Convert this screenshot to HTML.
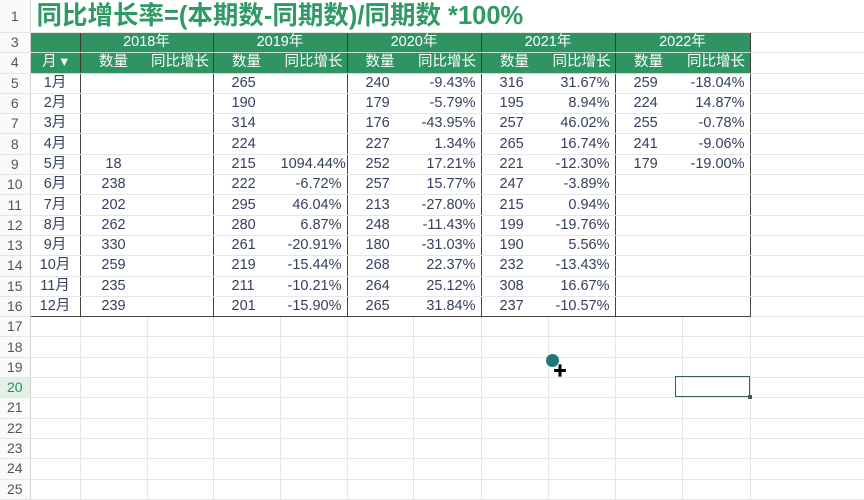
<!DOCTYPE html>
<html><head><meta charset="utf-8"><style>
body{margin:0;width:864px;height:486px;overflow:hidden;background:#fff;font-family:"Liberation Sans","Noto Sans CJK SC",sans-serif}
table{position:absolute;left:0;top:0;border-collapse:collapse;table-layout:fixed;width:864px}
td{padding:0;height:19.3px;font-size:14.5px;color:#34405e;border-bottom:1px solid #e6e6e6;border-right:1px solid #e6e6e6;white-space:nowrap;overflow:hidden;line-height:19px}
td.r{text-align:center;color:#555;background:#fafafa;border-right:1px solid #d0d0d0;font-size:14px}
tr.t1 td{height:32px}
td.title{color:#2f9a66;font-size:25.5px;font-weight:bold;padding-left:6px;overflow:visible;border-right:none}
.h td.g{background:#2f9462;text-align:center;border-right:1px solid #3a3a3a;border-bottom:1px solid #bfe0cc;color:#fff}
.h td.gi{border-right:1px solid #2f9462}
td.m{text-align:center;border-right:1px solid #444}
td.q{padding-left:18px;border-right:1px solid #fff}
td.c{text-align:center;border-right:1px solid #fff}
td.p{text-align:right;padding-right:5px;border-right:1px solid #444}
td.x{border-right:1px solid #444}
tr.last td.m,tr.last td.q,tr.last td.p,tr.last td.c,tr.last td.x{border-bottom:1px solid #444}
td.sel{background:#e4efe8;color:#2f8a5a}
.box{position:absolute;left:675px;top:376px;width:73px;height:19px;border:1px solid #3d5e4d}
.box i{position:absolute;right:-3px;bottom:-3px;width:4px;height:4px;background:#3d5e4d}
.dot{position:absolute;left:546px;top:354px;width:13px;height:13px;border-radius:50%;background:#1e7a74}
.cur{position:absolute;left:553px;top:361px;font-size:14px;color:#000;font-weight:bold}
</style></head><body>
<table>
<colgroup><col style="width:30px"><col style="width:50px"><col style="width:67px"><col style="width:66px"><col style="width:67px"><col style="width:67px"><col style="width:66px"><col style="width:68px"><col style="width:67px"><col style="width:67px"><col style="width:67px"><col style="width:68px"><col style="width:114px"></colgroup>
<tr class="t1"><td class="r">1</td><td class="title" colspan="12">同比增长率=(本期数-同期数)/同期数 *100%</td></tr>
<tr class="h"><td class="r">3</td><td class="g"></td><td class="g" colspan="2">2018年</td><td class="g" colspan="2">2019年</td><td class="g" colspan="2">2020年</td><td class="g" colspan="2">2021年</td><td class="g" colspan="2">2022年</td><td></td></tr>
<tr class="h"><td class="r">4</td><td class="g">月 ▾</td><td class="g gi">数量</td><td class="g">同比增长</td><td class="g gi">数量</td><td class="g">同比增长</td><td class="g gi">数量</td><td class="g">同比增长</td><td class="g gi">数量</td><td class="g">同比增长</td><td class="g gi">数量</td><td class="g">同比增长</td><td></td></tr>
<tr><td class="r">5</td><td class="m">1月</td><td class="c"></td><td class="x"></td><td class="q">265</td><td class="p"></td><td class="q">240</td><td class="p">-9.43%</td><td class="q">316</td><td class="p">31.67%</td><td class="q">259</td><td class="p">-18.04%</td><td></td></tr>
<tr><td class="r">6</td><td class="m">2月</td><td class="c"></td><td class="x"></td><td class="q">190</td><td class="p"></td><td class="q">179</td><td class="p">-5.79%</td><td class="q">195</td><td class="p">8.94%</td><td class="q">224</td><td class="p">14.87%</td><td></td></tr>
<tr><td class="r">7</td><td class="m">3月</td><td class="c"></td><td class="x"></td><td class="q">314</td><td class="p"></td><td class="q">176</td><td class="p">-43.95%</td><td class="q">257</td><td class="p">46.02%</td><td class="q">255</td><td class="p">-0.78%</td><td></td></tr>
<tr><td class="r">8</td><td class="m">4月</td><td class="c"></td><td class="x"></td><td class="q">224</td><td class="p"></td><td class="q">227</td><td class="p">1.34%</td><td class="q">265</td><td class="p">16.74%</td><td class="q">241</td><td class="p">-9.06%</td><td></td></tr>
<tr><td class="r">9</td><td class="m">5月</td><td class="c">18</td><td class="x"></td><td class="q">215</td><td class="p">1094.44%</td><td class="q">252</td><td class="p">17.21%</td><td class="q">221</td><td class="p">-12.30%</td><td class="q">179</td><td class="p">-19.00%</td><td></td></tr>
<tr><td class="r">10</td><td class="m">6月</td><td class="c">238</td><td class="x"></td><td class="q">222</td><td class="p">-6.72%</td><td class="q">257</td><td class="p">15.77%</td><td class="q">247</td><td class="p">-3.89%</td><td class="q"></td><td class="p"></td><td></td></tr>
<tr><td class="r">11</td><td class="m">7月</td><td class="c">202</td><td class="x"></td><td class="q">295</td><td class="p">46.04%</td><td class="q">213</td><td class="p">-27.80%</td><td class="q">215</td><td class="p">0.94%</td><td class="q"></td><td class="p"></td><td></td></tr>
<tr><td class="r">12</td><td class="m">8月</td><td class="c">262</td><td class="x"></td><td class="q">280</td><td class="p">6.87%</td><td class="q">248</td><td class="p">-11.43%</td><td class="q">199</td><td class="p">-19.76%</td><td class="q"></td><td class="p"></td><td></td></tr>
<tr><td class="r">13</td><td class="m">9月</td><td class="c">330</td><td class="x"></td><td class="q">261</td><td class="p">-20.91%</td><td class="q">180</td><td class="p">-31.03%</td><td class="q">190</td><td class="p">5.56%</td><td class="q"></td><td class="p"></td><td></td></tr>
<tr><td class="r">14</td><td class="m">10月</td><td class="c">259</td><td class="x"></td><td class="q">219</td><td class="p">-15.44%</td><td class="q">268</td><td class="p">22.37%</td><td class="q">232</td><td class="p">-13.43%</td><td class="q"></td><td class="p"></td><td></td></tr>
<tr><td class="r">15</td><td class="m">11月</td><td class="c">235</td><td class="x"></td><td class="q">211</td><td class="p">-10.21%</td><td class="q">264</td><td class="p">25.12%</td><td class="q">308</td><td class="p">16.67%</td><td class="q"></td><td class="p"></td><td></td></tr>
<tr class="last"><td class="r">16</td><td class="m">12月</td><td class="c">239</td><td class="x"></td><td class="q">201</td><td class="p">-15.90%</td><td class="q">265</td><td class="p">31.84%</td><td class="q">237</td><td class="p">-10.57%</td><td class="q"></td><td class="p"></td><td></td></tr>
<tr><td class="r">17</td><td></td><td></td><td></td><td></td><td></td><td></td><td></td><td></td><td></td><td></td><td></td><td></td></tr>
<tr><td class="r">18</td><td></td><td></td><td></td><td></td><td></td><td></td><td></td><td></td><td></td><td></td><td></td><td></td></tr>
<tr><td class="r">19</td><td></td><td></td><td></td><td></td><td></td><td></td><td></td><td></td><td></td><td></td><td></td><td></td></tr>
<tr><td class="r sel">20</td><td></td><td></td><td></td><td></td><td></td><td></td><td></td><td></td><td></td><td></td><td></td><td></td></tr>
<tr><td class="r">21</td><td></td><td></td><td></td><td></td><td></td><td></td><td></td><td></td><td></td><td></td><td></td><td></td></tr>
<tr><td class="r">22</td><td></td><td></td><td></td><td></td><td></td><td></td><td></td><td></td><td></td><td></td><td></td><td></td></tr>
<tr><td class="r">23</td><td></td><td></td><td></td><td></td><td></td><td></td><td></td><td></td><td></td><td></td><td></td><td></td></tr>
<tr><td class="r">24</td><td></td><td></td><td></td><td></td><td></td><td></td><td></td><td></td><td></td><td></td><td></td><td></td></tr>
<tr><td class="r">25</td><td></td><td></td><td></td><td></td><td></td><td></td><td></td><td></td><td></td><td></td><td></td><td></td></tr>
</table>
<div class="box"><i></i></div>
<div class="dot"></div>
<div class="cur">✚</div>
</body></html>
